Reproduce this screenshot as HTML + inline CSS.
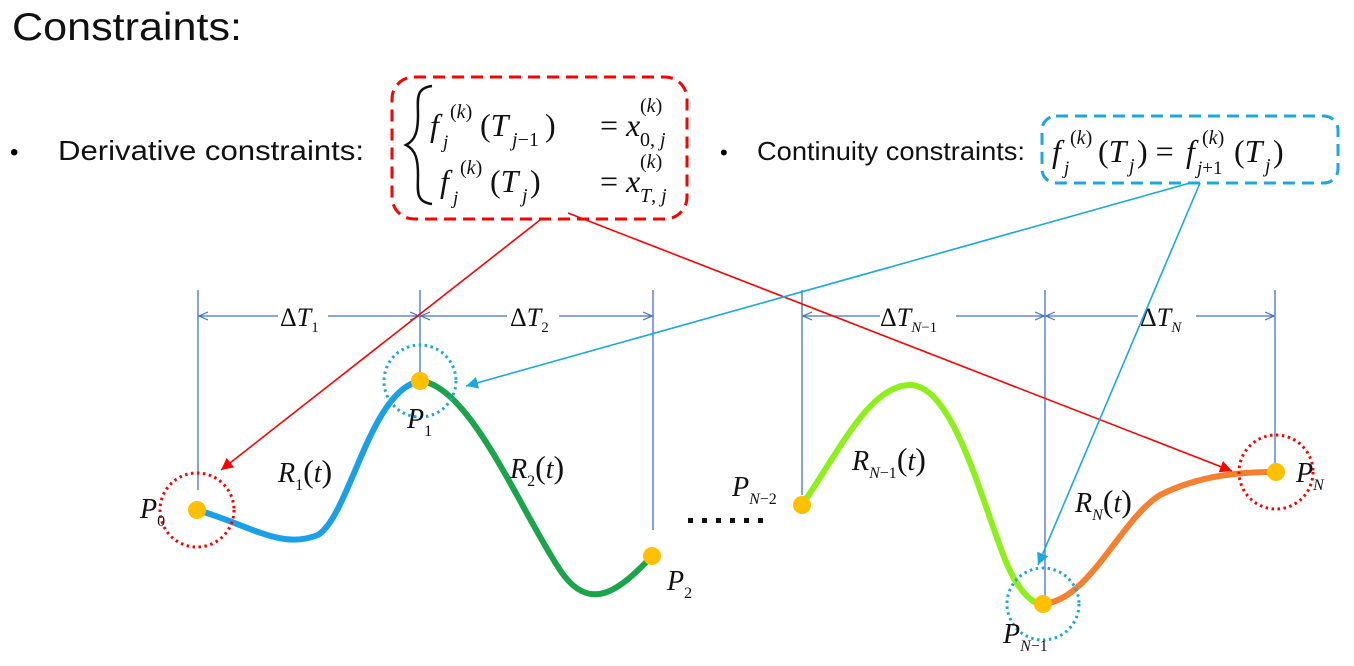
<!DOCTYPE html>
<html><head><meta charset="utf-8"><style>
body{margin:0;background:#fff;}
svg{display:block;}
.s{font-family:"Liberation Sans","DejaVu Sans",sans-serif;}
</style></head><body>
<svg width="1354" height="666" viewBox="0 0 1354 666" xmlns="http://www.w3.org/2000/svg">
<defs>
<marker id="ab" markerWidth="10" markerHeight="10" refX="9" refY="5" orient="auto-start-reverse" markerUnits="userSpaceOnUse"><path d="M0,1 L9,5 L0,9" fill="none" stroke="#4472c4" stroke-width="1.2"/></marker>
<marker id="ar" markerWidth="14" markerHeight="14" refX="12" refY="6" orient="auto" markerUnits="userSpaceOnUse"><path d="M0,0 L12,6 L0,12 z" fill="#ff0000"/></marker>
<marker id="ac" markerWidth="14" markerHeight="14" refX="12" refY="6" orient="auto" markerUnits="userSpaceOnUse"><path d="M0,0 L12,6 L0,12 z" fill="#1aa8e0"/></marker>
</defs>
<text x="12" y="40" class="s" font-size="39" fill="#111" textLength="230" lengthAdjust="spacingAndGlyphs">Constraints:</text>
<text x="10" y="160" class="s" font-size="24">•</text>
<text x="58" y="160" class="s" font-size="28" fill="#111" textLength="306" lengthAdjust="spacingAndGlyphs">Derivative constraints:</text>
<text x="720" y="160" class="s" font-size="22">•</text>
<text x="757" y="160" class="s" font-size="26" fill="#111" textLength="268" lengthAdjust="spacingAndGlyphs">Continuity constraints:</text>

<rect x="392" y="77" width="295" height="142" rx="22" fill="none" stroke="#ff0000" stroke-width="3" stroke-dasharray="12,7"/>
<path d="M432,86 C415,88 418,100 418,115 C418,130 416,140 406,145 C416,150 418,160 418,175 C418,190 415,202 432,204" fill="none" stroke="#111" stroke-width="2.5"/>
<g font-family="Liberation Serif,serif" font-size="32" fill="#111">
<text x="430" y="136" font-style="italic">f</text>
<text x="443" y="148" font-size="19" font-style="italic">j</text>
<text x="450" y="118" font-size="20">(<tspan font-style="italic">k</tspan>)</text>
<text x="480" y="136">(<tspan font-style="italic">T</tspan></text>
<text x="512" y="146" font-size="20" font-style="italic">j<tspan font-style="normal">−1</tspan></text>
<text x="545" y="136">)</text>
<text x="600" y="136">= <tspan font-style="italic">x</tspan></text>
<text x="640" y="112" font-size="20">(<tspan font-style="italic">k</tspan>)</text>
<text x="640" y="146" font-size="20">0, <tspan font-style="italic">j</tspan></text>
<text x="440" y="192" font-style="italic">f</text>
<text x="453" y="204" font-size="19" font-style="italic">j</text>
<text x="460" y="174" font-size="20">(<tspan font-style="italic">k</tspan>)</text>
<text x="490" y="192">(<tspan font-style="italic">T</tspan></text>
<text x="522" y="202" font-size="20" font-style="italic">j</text>
<text x="530" y="192">)</text>
<text x="600" y="192">= <tspan font-style="italic">x</tspan></text>
<text x="640" y="168" font-size="20">(<tspan font-style="italic">k</tspan>)</text>
<text x="640" y="202" font-size="20"><tspan font-style="italic">T</tspan>, <tspan font-style="italic">j</tspan></text>
</g>
<rect x="1042" y="116" width="296" height="67" rx="14" fill="none" stroke="#1aa8e0" stroke-width="3" stroke-dasharray="12,7"/>
<g font-family="Liberation Serif,serif" font-size="32" fill="#111">
<text x="1052" y="162" font-style="italic">f</text>
<text x="1064" y="174" font-size="19" font-style="italic">j</text>
<text x="1070" y="144" font-size="20">(<tspan font-style="italic">k</tspan>)</text>
<text x="1098" y="162">(<tspan font-style="italic">T</tspan></text>
<text x="1129" y="172" font-size="20" font-style="italic">j</text>
<text x="1137" y="162">) = </text>
<text x="1186" y="162" font-style="italic">f</text>
<text x="1197" y="174" font-size="19"><tspan font-style="italic">j</tspan>+1</text>
<text x="1202" y="144" font-size="20">(<tspan font-style="italic">k</tspan>)</text>
<text x="1234" y="162">(<tspan font-style="italic">T</tspan></text>
<text x="1265" y="172" font-size="20" font-style="italic">j</text>
<text x="1273" y="162">)</text>
</g>

<g stroke="#4472c4" stroke-width="1.3" fill="none">
<line x1="198" y1="290" x2="198" y2="490"/>
<line x1="420" y1="290" x2="420" y2="385"/>
<line x1="653" y1="290" x2="653" y2="530"/>
<line x1="802" y1="290" x2="802" y2="495"/>
<line x1="1045" y1="290" x2="1045" y2="598"/>
<line x1="1275" y1="290" x2="1275" y2="465"/>
<line x1="199" y1="316" x2="419" y2="316" marker-start="url(#ab)" marker-end="url(#ab)"/>
<line x1="421" y1="316" x2="652" y2="316" marker-start="url(#ab)" marker-end="url(#ab)"/>
<line x1="803" y1="316" x2="1044" y2="316" marker-start="url(#ab)" marker-end="url(#ab)"/>
<line x1="1046" y1="316" x2="1274" y2="316" marker-start="url(#ab)" marker-end="url(#ab)"/>
</g>
<g fill="#fff"><rect x="278" y="302" width="50" height="28"/><rect x="507" y="302" width="52" height="28"/><rect x="880" y="302" width="76" height="28"/><rect x="1138" y="302" width="58" height="28"/></g>
<g font-family="Liberation Serif,serif" font-size="26" fill="#111">
<text x="280" y="326">Δ<tspan font-style="italic">T</tspan><tspan font-size="15" dy="6">1</tspan></text>
<text x="510" y="326">Δ<tspan font-style="italic">T</tspan><tspan font-size="15" dy="6">2</tspan></text>
<text x="880" y="326">Δ<tspan font-style="italic">T</tspan><tspan font-size="15" dy="6" font-style="italic">N</tspan><tspan font-size="15">−1</tspan></text>
<text x="1140" y="326">Δ<tspan font-style="italic">T</tspan><tspan font-size="15" dy="6" font-style="italic">N</tspan></text>
</g>

<path d="M197,510 C250,525 280,550 318,535 C350,515 370,390 420,381" fill="none" stroke="#1aa0e6" stroke-width="6" stroke-linecap="round"/>
<path d="M420,381 C470,385 520,510 560,570 C590,615 620,590 652,556" fill="none" stroke="#1aa54a" stroke-width="6" stroke-linecap="round"/>
<path d="M802,505 C840,450 870,385 910,385 C960,385 990,540 1015,580 C1030,605 1040,604 1043,604" fill="none" stroke="#8ef01a" stroke-width="6" stroke-linecap="round"/>
<path d="M1043,604 C1090,600 1120,520 1160,495 C1200,475 1240,472 1276,472" fill="none" stroke="#f58030" stroke-width="6" stroke-linecap="round"/>

<g fill="none" stroke-width="3" stroke-dasharray="2.5,3.5">
<circle cx="197" cy="510" r="37" stroke="#ff0000"/>
<circle cx="1276" cy="472" r="37" stroke="#ff0000"/>
<circle cx="420" cy="381" r="36" stroke="#1aa8e0"/>
<circle cx="1043" cy="604" r="36" stroke="#1aa8e0"/>
</g>
<g fill="#ffc000"><circle cx="197" cy="510" r="9"/><circle cx="420" cy="381" r="9"/><circle cx="652" cy="556" r="9"/><circle cx="802" cy="505" r="9"/><circle cx="1043" cy="604" r="9"/><circle cx="1276" cy="472" r="9"/></g>

<line x1="540" y1="220" x2="221" y2="470" stroke="#ff0000" stroke-width="1.6" marker-end="url(#ar)"/>
<line x1="568" y1="213" x2="1232" y2="471" stroke="#ff0000" stroke-width="1.6" marker-end="url(#ar)"/>
<line x1="1190" y1="183" x2="466" y2="386" stroke="#1aa8e0" stroke-width="1.6" marker-end="url(#ac)"/>
<line x1="1200" y1="183" x2="1038" y2="565" stroke="#1aa8e0" stroke-width="1.6" marker-end="url(#ac)"/>

<g font-family="Liberation Serif,serif" font-size="28" fill="#111">
<text x="140" y="518"><tspan font-style="italic">P</tspan><tspan font-size="16" dy="8">0</tspan></text>
<text x="407" y="428"><tspan font-style="italic">P</tspan><tspan font-size="16" dy="8">1</tspan></text>
<text x="667" y="590"><tspan font-style="italic">P</tspan><tspan font-size="16" dy="8">2</tspan></text>
<text x="732" y="496"><tspan font-style="italic">P</tspan><tspan font-size="16" dy="8" font-style="italic">N</tspan><tspan font-size="16">−2</tspan></text>
<text x="1003" y="643"><tspan font-style="italic">P</tspan><tspan font-size="16" dy="8" font-style="italic">N</tspan><tspan font-size="16">−1</tspan></text>
<text x="1296" y="482"><tspan font-style="italic">P</tspan><tspan font-size="16" dy="8" font-style="italic">N</tspan></text>
<text x="278" y="482"><tspan font-style="italic">R</tspan><tspan font-size="16" dy="8">1</tspan><tspan dy="-8" font-size="32">(</tspan><tspan font-style="italic">t</tspan><tspan font-size="32">)</tspan></text>
<text x="510" y="478"><tspan font-style="italic">R</tspan><tspan font-size="16" dy="8">2</tspan><tspan dy="-8" font-size="32">(</tspan><tspan font-style="italic">t</tspan><tspan font-size="32">)</tspan></text>
<text x="852" y="470"><tspan font-style="italic">R</tspan><tspan font-size="16" dy="8" font-style="italic">N</tspan><tspan font-size="16">−1</tspan><tspan dy="-8" font-size="32">(</tspan><tspan font-style="italic">t</tspan><tspan font-size="32">)</tspan></text>
<text x="1075" y="512"><tspan font-style="italic">R</tspan><tspan font-size="16" dy="8" font-style="italic">N</tspan><tspan dy="-8" font-size="32">(</tspan><tspan font-style="italic">t</tspan><tspan font-size="32">)</tspan></text>
</g>
<g fill="#111"><rect x="688" y="518" width="5" height="5"/><rect x="702" y="518" width="5" height="5"/><rect x="716" y="518" width="5" height="5"/><rect x="730" y="518" width="5" height="5"/><rect x="744" y="518" width="5" height="5"/><rect x="758" y="518" width="5" height="5"/></g>
</svg>
</body></html>
